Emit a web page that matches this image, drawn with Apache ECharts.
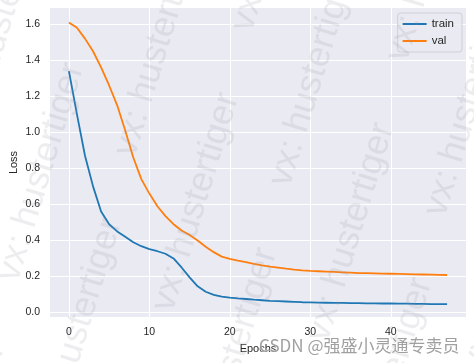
<!DOCTYPE html>
<html>
<head>
<meta charset="utf-8">
<script src="https://cdn.jsdelivr.net/npm/echarts@6/dist/echarts.min.js"></script>
<style>
html,body{margin:0;padding:0;background:#fff;}
#chart{width:474px;height:363px;}
</style>
</head>
<body>
<div id="chart"></div>
<script>
var trainLoss = [1.34, 1.10, 0.87, 0.70, 0.56, 0.49, 0.45, 0.42, 0.39, 0.368,
  0.352, 0.34, 0.326, 0.30, 0.25, 0.195, 0.145, 0.115, 0.098, 0.088,
  0.082, 0.078, 0.075, 0.071, 0.068, 0.065, 0.063, 0.061, 0.059, 0.057,
  0.056, 0.055, 0.054, 0.053, 0.053, 0.052, 0.052, 0.051, 0.051, 0.050,
  0.050, 0.049, 0.049, 0.048, 0.048, 0.047, 0.047, 0.046];
var valLoss = [1.61, 1.58, 1.52, 1.45, 1.36, 1.26, 1.15, 1.01, 0.86, 0.74,
  0.66, 0.59, 0.535, 0.49, 0.455, 0.43, 0.40, 0.365, 0.335, 0.31,
  0.297, 0.288, 0.28, 0.27, 0.262, 0.255, 0.249, 0.243, 0.238, 0.234,
  0.231, 0.229, 0.227, 0.225, 0.223, 0.221, 0.219, 0.218, 0.217, 0.216,
  0.215, 0.214, 0.213, 0.212, 0.211, 0.210, 0.209, 0.208];
var xTicks = [0, 10, 20, 30, 40];
var yTicks = [0, 0.2, 0.4, 0.6, 0.8, 1.0, 1.2, 1.4, 1.6];
var seriesNames = ['train', 'val'];
var watermarkText = 'vx: hustertiger';
var creditText = 'CSDN @强盛小灵通专卖员';

function pairs(arr) { return arr.map(function (v, i) { return [i, v]; }); }

var chart = echarts.init(document.getElementById('chart'), null, {renderer: 'canvas'});
var font = '"Liberation Sans", Arial, sans-serif';
var textColor = '#262626';

// watermark tiling (decoration)
var wm = [];
var base = [8, 280], v1 = [155, 30], v2 = [38, 155];
for (var i = -3; i <= 5; i++) {
  for (var j = -4; j <= 4; j++) {
    var x = base[0] + i * v1[0] + j * v2[0];
    var y = base[1] + i * v1[1] + j * v2[1];
    if (x < -120 || x > 500 || y < -20 || y > 640) continue;
    wm.push({
      type: 'text', x: x, y: y, rotation: 73 * Math.PI / 180, z: 100, silent: true,
      style: {text: watermarkText, fill: 'rgba(150,150,165,0.17)', font: '36px ' + font,
              textAlign: 'left', textVerticalAlign: 'middle'}
    });
  }
}
wm.push({
  type: 'text', right: 14, top: 337, z: 110, silent: true,
  style: {text: creditText, fill: 'rgba(150,150,150,0.9)', font: '17px "Noto Sans CJK SC", ' + font,
          stroke: 'rgba(255,255,255,0.6)', lineWidth: 1}
});

chart.setOption({
  backgroundColor: '#ffffff',
  animation: false,
  textStyle: {fontFamily: font},
  grid: {left: 50, right: 8, top: 8, bottom: 46, show: true, backgroundColor: '#EAEAF2', borderWidth: 0,
         containLabel: false, outerBoundsMode: 'none'},
  legend: {
    data: seriesNames, orient: 'vertical', right: 12, top: 13,
    icon: 'rect', itemWidth: 24, itemHeight: 2, itemGap: 5,
    padding: [5, 8, 5, 5],
    backgroundColor: 'rgba(234,234,242,0.85)', borderColor: '#cfcfd6', borderWidth: 1, borderRadius: 3,
    textStyle: {color: textColor, fontSize: 11.5, fontFamily: font}
  },
  xAxis: {
    type: 'value', min: -2.35, max: 49.35,
    name: 'Epochs', nameLocation: 'middle', nameGap: 26, nameMoveOverlap: false,
    nameTextStyle: {color: textColor, fontSize: 11, fontFamily: font},
    axisLine: {show: false}, axisTick: {show: false, customValues: xTicks},
    axisLabel: {customValues: xTicks, color: textColor, fontSize: 10.5, margin: 10, fontFamily: font},
    splitLine: {show: true, lineStyle: {color: '#ffffff', width: 1}}
  },
  yAxis: {
    type: 'value', min: -0.025, max: 1.69,
    name: 'Loss', nameLocation: 'middle', nameGap: 31, nameMoveOverlap: false,
    nameTextStyle: {color: textColor, fontSize: 11, fontFamily: font},
    axisLine: {show: false}, axisTick: {show: false, customValues: yTicks},
    axisLabel: {customValues: yTicks, color: textColor, fontSize: 10.5, margin: 10, fontFamily: font,
      formatter: function (v) { return v.toFixed(1); }},
    splitLine: {show: true, lineStyle: {color: '#ffffff', width: 1}}
  },
  series: [
    {name: seriesNames[0], type: 'line', data: pairs(trainLoss), showSymbol: false,
     lineStyle: {color: '#1f77b4', width: 1.8}, itemStyle: {color: '#1f77b4'}},
    {name: seriesNames[1], type: 'line', data: pairs(valLoss), showSymbol: false,
     lineStyle: {color: '#ff7f0e', width: 1.8}, itemStyle: {color: '#ff7f0e'}}
  ],
  graphic: wm
});
</script>
</body>
</html>
